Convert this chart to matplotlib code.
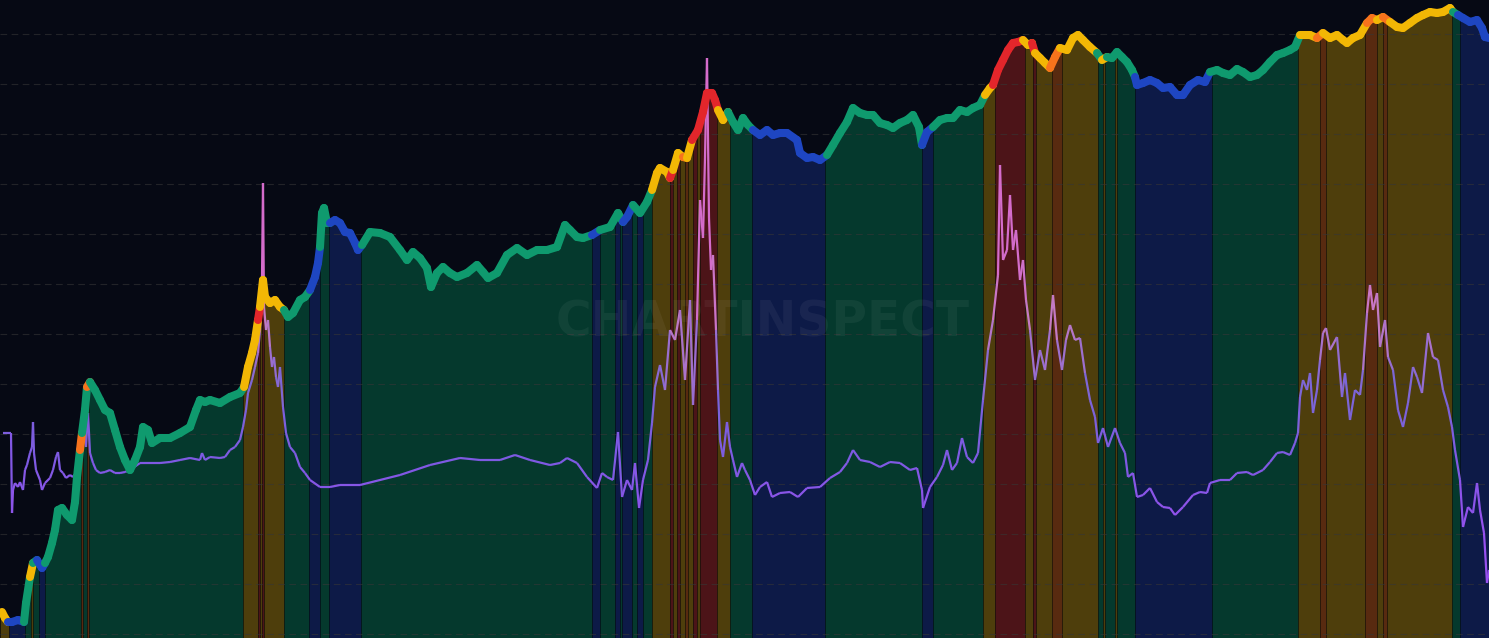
import numpy as np
import matplotlib.pyplot as plt
from matplotlib.collections import LineCollection
from matplotlib.colors import LinearSegmentedColormap, Normalize

# price path: x position (chart units) and level (log-price units, 50 per grid step)
PRICE_X = [2, 5, 8, 12, 18, 24, 26, 30, 33, 37, 42, 45, 48, 52, 55, 58, 62, 67, 72, 75,
           77, 80, 82, 85, 87, 90, 95, 100, 105, 110, 115, 120, 125, 130, 135, 140, 143, 148, 152, 160,
           170, 180, 190, 196, 200, 205, 210, 220, 230, 240, 244, 248, 252, 255, 258, 260, 263, 265, 270, 275,
           280, 284, 288, 293, 300, 305, 310, 315, 318, 320, 322, 324, 327, 330, 335, 340, 345, 350, 355, 358,
           362, 370, 380, 390, 400, 407, 413, 420, 427, 431, 437, 443, 450, 457, 467, 477, 483, 488, 497, 507,
           517, 527, 537, 547, 557, 565, 570, 577, 583, 592, 600, 610, 618, 623, 627, 633, 640, 647, 652, 657,
           660, 667, 670, 673, 678, 683, 687, 692, 698, 703, 707, 712, 715, 718, 723, 728, 733, 738, 743, 748,
           753, 760, 767, 773, 780, 787, 797, 800, 807, 813, 820, 827, 833, 840, 847, 853, 860, 867, 873, 880,
           887, 893, 900, 907, 913, 919, 922, 927, 933, 940, 947, 953, 960, 967, 973, 980, 985, 990, 993, 998,
           1003, 1008, 1013, 1018, 1023, 1028, 1032, 1035, 1040, 1045, 1050, 1055, 1060, 1067, 1073, 1078, 1083, 1090, 1097, 1102,
           1107, 1112, 1117, 1122, 1127, 1132, 1135, 1137, 1143, 1150, 1157, 1163, 1170, 1177, 1183, 1190, 1198, 1205, 1210, 1217,
           1223, 1230, 1237, 1243, 1250, 1257, 1263, 1270, 1277, 1283, 1290, 1295, 1300, 1310, 1317, 1323, 1330, 1337, 1343, 1347,
           1353, 1360, 1367, 1372, 1377, 1383, 1390, 1397, 1403, 1410, 1417, 1423, 1430, 1437, 1443, 1450, 1453, 1458, 1463, 1470,
           1477, 1482, 1485, 1489]
PRICE_LVL = [26, 20, 16, 16, 18, 16, 35, 61, 75, 78, 70, 75, 81, 95, 108, 128, 130, 123, 118, 136,
             161, 188, 205, 228, 251, 256, 248, 238, 228, 225, 208, 191, 178, 168, 178, 191, 211, 208, 195, 200,
             200, 205, 211, 228, 238, 236, 238, 235, 241, 245, 251, 271, 285, 298, 318, 331, 358, 341, 335, 338,
             331, 328, 321, 325, 338, 341, 348, 361, 375, 391, 425, 430, 415, 415, 418, 415, 406, 405, 395, 388,
             393, 406, 405, 401, 388, 378, 386, 380, 370, 351, 365, 371, 365, 361, 365, 373, 366, 360, 365, 383,
             390, 383, 388, 388, 391, 413, 408, 401, 400, 403, 408, 411, 425, 416, 421, 433, 425, 436, 448, 465,
             470, 466, 460, 468, 485, 481, 480, 498, 508, 526, 545, 545, 538, 528, 518, 526, 516, 508, 520, 513,
             508, 503, 508, 503, 505, 505, 498, 485, 480, 481, 478, 483, 493, 505, 516, 530, 525, 523, 523, 515,
             513, 510, 515, 518, 523, 511, 493, 506, 511, 518, 520, 520, 528, 526, 530, 533, 543, 550, 553, 568,
             578, 588, 595, 596, 598, 593, 595, 585, 580, 575, 570, 581, 590, 588, 600, 603, 598, 591, 585, 578,
             581, 580, 586, 581, 576, 568, 561, 553, 555, 558, 555, 550, 551, 543, 543, 553, 558, 556, 566, 568,
             565, 563, 569, 566, 561, 563, 568, 576, 583, 585, 588, 591, 603, 603, 600, 605, 600, 603, 598, 595,
             600, 603, 615, 620, 618, 621, 616, 611, 610, 615, 620, 623, 626, 625, 626, 630, 626, 623, 620, 616,
             618, 610, 601, 600]

# oscillator
OSC_X = [3, 11, 12, 13, 15, 18, 20, 23, 25, 27, 30, 32, 33, 34, 36, 40, 42, 45, 50, 53,
         56, 58, 60, 63, 66, 70, 73, 76, 78, 80, 82, 84, 86, 88, 90, 93, 96, 100, 105, 110,
         115, 120, 125, 130, 140, 150, 160, 170, 180, 190, 200, 202, 205, 210, 220, 225, 230, 235, 240, 243,
         246, 248, 252, 255, 258, 260, 262, 263, 264, 266, 268, 270, 272, 274, 276, 278, 280, 283, 286, 290,
         295, 300, 305, 310, 320, 330, 340, 360, 400, 430, 460, 480, 500, 515, 530, 550, 560, 567, 577, 587,
         597, 602, 607, 613, 618, 622, 627, 632, 635, 639, 643, 648, 652, 655, 660, 665, 670, 675, 680, 685,
         690, 693, 697, 700, 703, 705, 707, 709, 711, 713, 716, 718, 720, 723, 727, 730, 733, 737, 742, 745,
         750, 755, 760, 767, 772, 780, 790, 798, 807, 820, 830, 840, 847, 853, 860, 870, 880, 890, 900, 910,
         917, 922, 923, 930, 937, 943, 947, 952, 957, 962, 967, 973, 978, 983, 988, 993, 998, 1000, 1003, 1007,
         1010, 1013, 1016, 1020, 1023, 1026, 1030, 1035, 1040, 1045, 1050, 1053, 1057, 1062, 1066, 1070, 1075, 1080, 1085, 1090,
         1095, 1098, 1103, 1108, 1115, 1120, 1125, 1128, 1133, 1137, 1143, 1150, 1157, 1163, 1170, 1175, 1183, 1193, 1200, 1207,
         1210, 1220, 1230, 1237, 1247, 1253, 1263, 1270, 1277, 1283, 1290, 1295, 1298, 1300, 1303, 1307, 1310, 1313, 1317, 1320,
         1323, 1326, 1330, 1337, 1342, 1345, 1350, 1355, 1360, 1363, 1367, 1370, 1373, 1377, 1380, 1385, 1388, 1393, 1398, 1403,
         1408, 1413, 1417, 1422, 1428, 1433, 1438, 1443, 1448, 1452, 1455, 1460, 1463, 1468, 1473, 1477, 1480, 1484, 1487, 1489]
OSC_LVL = [205, 205, 125, 148, 155, 151, 156, 148, 168, 173, 185, 191, 216, 185, 168, 158, 148, 155, 160, 168,
           181, 186, 168, 165, 160, 163, 161, 165, 175, 190, 198, 211, 191, 225, 185, 175, 168, 165, 166, 168,
           165, 165, 166, 168, 175, 175, 175, 176, 178, 180, 178, 185, 178, 181, 180, 181, 188, 191, 198, 211,
           228, 245, 258, 271, 285, 308, 361, 455, 331, 308, 318, 291, 271, 281, 261, 251, 271, 231, 205, 191,
           185, 171, 165, 158, 151, 151, 153, 153, 163, 173, 180, 178, 178, 183, 178, 173, 175, 180, 175, 161,
           150, 165, 161, 158, 206, 141, 158, 148, 175, 130, 158, 178, 215, 251, 273, 248, 308, 298, 328, 258,
           338, 233, 318, 438, 400, 480, 580, 420, 368, 383, 308, 248, 198, 181, 216, 191, 178, 161, 175, 168,
           158, 143, 151, 156, 141, 145, 146, 141, 150, 151, 160, 166, 175, 188, 178, 176, 171, 176, 175, 168,
           170, 148, 130, 151, 161, 173, 188, 168, 175, 200, 181, 175, 185, 238, 288, 318, 363, 473, 378, 388,
           443, 388, 408, 358, 378, 338, 308, 258, 288, 268, 308, 343, 298, 268, 298, 313, 298, 300, 265, 238,
           221, 195, 210, 191, 210, 195, 185, 161, 165, 141, 143, 150, 136, 131, 130, 123, 131, 143, 146, 145,
           155, 158, 158, 165, 166, 163, 168, 176, 185, 186, 183, 195, 205, 241, 258, 248, 265, 225, 248, 278,
           305, 310, 288, 301, 241, 265, 218, 248, 243, 268, 325, 353, 328, 345, 291, 318, 281, 268, 228, 211,
           235, 271, 261, 245, 305, 281, 278, 248, 231, 211, 188, 158, 111, 131, 125, 155, 128, 105, 55, 68]

# market regime periods: start, end, regime
REGIMES = [
    (0, 9, "yellow"), (9, 25, "blue"), (25, 31, "green"), (31, 33, "yellow"), (33, 39, "green"),
    (39, 45, "blue"), (45, 81, "green"), (81, 83, "orange"), (83, 87, "green"), (87, 89, "orange"),
    (89, 243, "green"), (243, 258, "yellow"), (258, 260, "red"), (260, 262, "yellow"), (262, 264, "red"),
    (264, 284, "yellow"), (284, 309, "green"), (309, 320, "blue"), (320, 329, "green"), (329, 361, "blue"),
    (361, 592, "green"), (592, 600, "blue"), (600, 615, "green"), (615, 620, "blue"), (620, 622, "green"),
    (622, 632, "blue"), (632, 637, "green"), (637, 643, "blue"), (643, 652, "green"), (652, 670, "yellow"),
    (670, 673, "red"), (673, 677, "yellow"), (677, 680, "red"), (680, 685, "yellow"), (685, 688, "orange"),
    (688, 693, "yellow"), (693, 697, "red"), (697, 700, "yellow"), (700, 717, "red"), (717, 730, "yellow"),
    (730, 752, "green"), (752, 825, "blue"), (825, 922, "green"), (922, 933, "blue"), (933, 983, "green"),
    (983, 995, "yellow"), (995, 1025, "red"), (1025, 1033, "yellow"), (1033, 1036, "red"), (1036, 1052, "yellow"),
    (1052, 1062, "orange"), (1062, 1098, "yellow"), (1098, 1103, "green"), (1103, 1105, "yellow"), (1105, 1115, "green"),
    (1115, 1117, "yellow"), (1117, 1135, "green"), (1135, 1212, "blue"), (1212, 1298, "green"), (1298, 1320, "yellow"),
    (1320, 1326, "orange"), (1326, 1365, "yellow"), (1365, 1377, "orange"), (1377, 1383, "yellow"), (1383, 1387, "orange"),
    (1387, 1452, "yellow"), (1452, 1460, "green"), (1460, 1489, "blue"),
]

BG = "#060914"
FILL = {"green": "#05392d", "blue": "#0d1a47", "yellow": "#4e3e0c", "orange": "#582a10", "red": "#4c1418"}
LINE = {"green": "#0f9a6e", "blue": "#1e46c2", "yellow": "#f2b705", "orange": "#f7731c", "red": "#e3262b"}

px = np.array(PRICE_X, float)
py = np.array(PRICE_LVL, float)
ox = np.array(OSC_X, float)
oy = np.array(OSC_LVL, float)

fig = plt.figure(figsize=(14.89, 6.38), dpi=100, facecolor=BG)
ax = fig.add_axes([0, 0, 1, 1])
ax.set_facecolor(BG)

# regime fills under the price line
for s, e, reg in REGIMES:
    inner = px[(px > s) & (px < e)]
    xs = np.concatenate([[s], inner, [e]])
    ys = np.interp(xs, px, py)
    ax.fill_between(xs, 0, ys, color=FILL[reg], lw=0, zorder=1)
    ax.plot([s, s], [0, np.interp(s, px, py)], color="black", lw=0.7, alpha=0.35, zorder=1.5)

# grid
for lvl in range(4, 638, 50):
    ax.axhline(lvl, color="#363636", lw=0.8, ls=(0, (6, 4)), alpha=0.6, zorder=2)

# watermark
ax.text(0.512, 0.495, "CHARTINSPECT", transform=ax.transAxes, ha="center", va="center",
        fontsize=35, fontweight="bold", color="white", alpha=0.05, zorder=2.5)

# oscillator
cmap = LinearSegmentedColormap.from_list(
    "osc", ["#9650ee", "#7d5ae2", "#7c66d6", "#c47ac4", "#d46ccb"])
pts = np.column_stack([ox, oy]).reshape(-1, 1, 2)
segs = np.concatenate([pts[:-1], pts[1:]], axis=1)
lc = LineCollection(segs, cmap=cmap, norm=Normalize(110, 390), linewidths=1.6, zorder=3)
lc.set_array((oy[:-1] + oy[1:]) / 2)
ax.add_collection(lc)

# price line coloured by regime
def regime_at(x):
    for s, e, reg in REGIMES:
        if s <= x < e:
            return reg
    return REGIMES[-1][2]

pts = np.column_stack([px, py]).reshape(-1, 1, 2)
segs = np.concatenate([pts[:-1], pts[1:]], axis=1)
cols = [LINE[regime_at((a + b) / 2)] for a, b in zip(px[:-1], px[1:])]
plc = LineCollection(segs, colors=cols, linewidths=5.8, capstyle="round", joinstyle="round", zorder=4)
ax.add_collection(plc)

ax.set_xlim(0, 1489)
ax.set_ylim(0, 638)
ax.axis("off")

fig.savefig("out.png", dpi=100, facecolor=BG)
